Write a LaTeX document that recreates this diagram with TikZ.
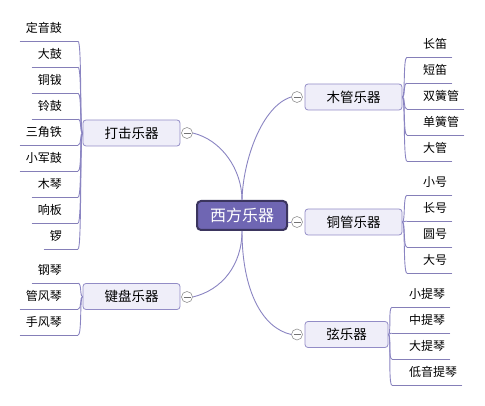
\documentclass[tikz,border=0pt]{standalone}
\usepackage{fontspec}
\setmainfont{Noto Sans CJK SC}
\definecolor{conncol}{HTML}{8A84C2}
\definecolor{ulinecol}{HTML}{857FB8}
\definecolor{bfill}{HTML}{EFEEF9}
\definecolor{bborder}{HTML}{928CC6}
\definecolor{cfill}{HTML}{6F66B3}
\definecolor{cdark}{HTML}{3B355E}
\begin{document}
\begin{tikzpicture}[x=1pt,y=-1pt,
  centerbox/.style={draw=cdark, line width=2pt, fill=cfill, rounded corners=4pt, text=white,
    font=\fontsize{16}{18}\selectfont, minimum width=90pt, minimum height=29pt, inner sep=0pt},
  branch/.style={draw=bborder, line width=0.8pt, fill=bfill, rounded corners=3pt,
    font=\fontsize{13.5}{15}\selectfont, minimum height=26pt, inner sep=0pt},
  leaf/.style={font=\fontsize{12}{14}\selectfont, minimum height=26pt, inner sep=0pt},
  fold/.style={circle, draw=gray!85, fill=white, minimum size=11pt, inner sep=0pt, line width=0.6pt,
    path picture={\draw[gray!90!black, line width=0.7pt] ([xshift=-3.5pt]path picture bounding box.center) -- ([xshift=3.5pt]path picture bounding box.center);}},
  conn/.style={draw=conncol, line width=0.9pt},
  uline/.style={draw=ulinecol, line width=0.8pt}
]
\useasboundingbox (0,0) rectangle (485,406);

% root and main branches
\node[centerbox] (root) at (242,215.5) {西方乐器};
\node[branch, minimum width=97pt] (b1) at (131.5,133) {打击乐器};
\node[branch, minimum width=97pt] (b2) at (131.5,296.5) {键盘乐器};
\node[branch, minimum width=97pt] (b3) at (353.5,97) {木管乐器};
\node[branch, minimum width=97pt] (b4) at (353.5,222) {铜管乐器};
\node[branch, minimum width=83pt] (b5) at (346.5,334.5) {弦乐器};

\node[fold] (f1) at (187,133) {};
\node[fold] (f2) at (187,297) {};
\node[fold] (f3) at (297,97) {};
\node[fold] (f4) at (297,222) {};
\node[fold] (f5) at (297,334.5) {};

% root connectors
\draw[conn] (f1.east) .. controls (222,140) and (242,170) .. (root.north);
\draw[conn] (f3.west) .. controls (262,106) and (243,160) .. (root.north);
\draw[conn] (root.south) .. controls (242,265) and (222,290) .. (f2.east);
\draw[conn] (root.south) .. controls (242,290) and (262,328) .. (f5.west);
\draw[conn] (root.east |- f4.west) -- (f4.west);

% percussion leaves
\foreach \t/\y [count=\i] in {定音鼓/28, 大鼓/54, 铜钹/80, 铃鼓/106, 三角铁/132, 小军鼓/158, 木琴/184, 响板/210, 锣/236} {
  \node[leaf, anchor=east] (a\i) at (62,\y) {\t};
  \draw[uline] ([xshift=-6pt]a\i.south west) -- ([xshift=16pt]a\i.south east) coordinate (ae\i);
  \draw[conn] (b1.west) .. controls +(-3,0) and +(4,0) .. (ae\i);
}
% keyboard leaves
\foreach \t/\y [count=\i] in {钢琴/270, 管风琴/296, 手风琴/322} {
  \node[leaf, anchor=east] (k\i) at (62,\y) {\t};
  \draw[uline] ([xshift=-6pt]k\i.south west) -- ([xshift=16pt]k\i.south east) coordinate (ke\i);
  \draw[conn] (b2.west) .. controls +(-3,0) and +(4,0) .. (ke\i);
}
% woodwind leaves
\foreach \t/\y [count=\i] in {长笛/44, 短笛/70, 双簧管/96, 单簧管/122, 大管/148} {
  \node[leaf, anchor=west] (w\i) at (423,\y) {\t};
  \draw[uline] ([xshift=5pt]w\i.south east) -- ([xshift=-16pt]w\i.south west) coordinate (we\i);
  \draw[conn] (b3.east) .. controls +(3,0) and +(-4,0) .. (we\i);
}
% brass leaves
\foreach \t/\y [count=\i] in {小号/182, 长号/208, 圆号/234, 大号/260} {
  \node[leaf, anchor=west] (r\i) at (423,\y) {\t};
  \draw[uline] ([xshift=5pt]r\i.south east) -- ([xshift=-16pt]r\i.south west) coordinate (re\i);
  \draw[conn] (b4.east) .. controls +(3,0) and +(-4,0) .. (re\i);
}
% string leaves
\foreach \t/\y [count=\i] in {小提琴/294, 中提琴/320, 大提琴/346, 低音提琴/372} {
  \node[leaf, anchor=west] (s\i) at (409,\y) {\t};
  \draw[uline] ([xshift=5pt]s\i.south east) -- ([xshift=-17pt]s\i.south west) coordinate (se\i);
  \draw[conn] (b5.east) .. controls +(3,0) and +(-4,0) .. (se\i);
}
\end{tikzpicture}
\end{document}
